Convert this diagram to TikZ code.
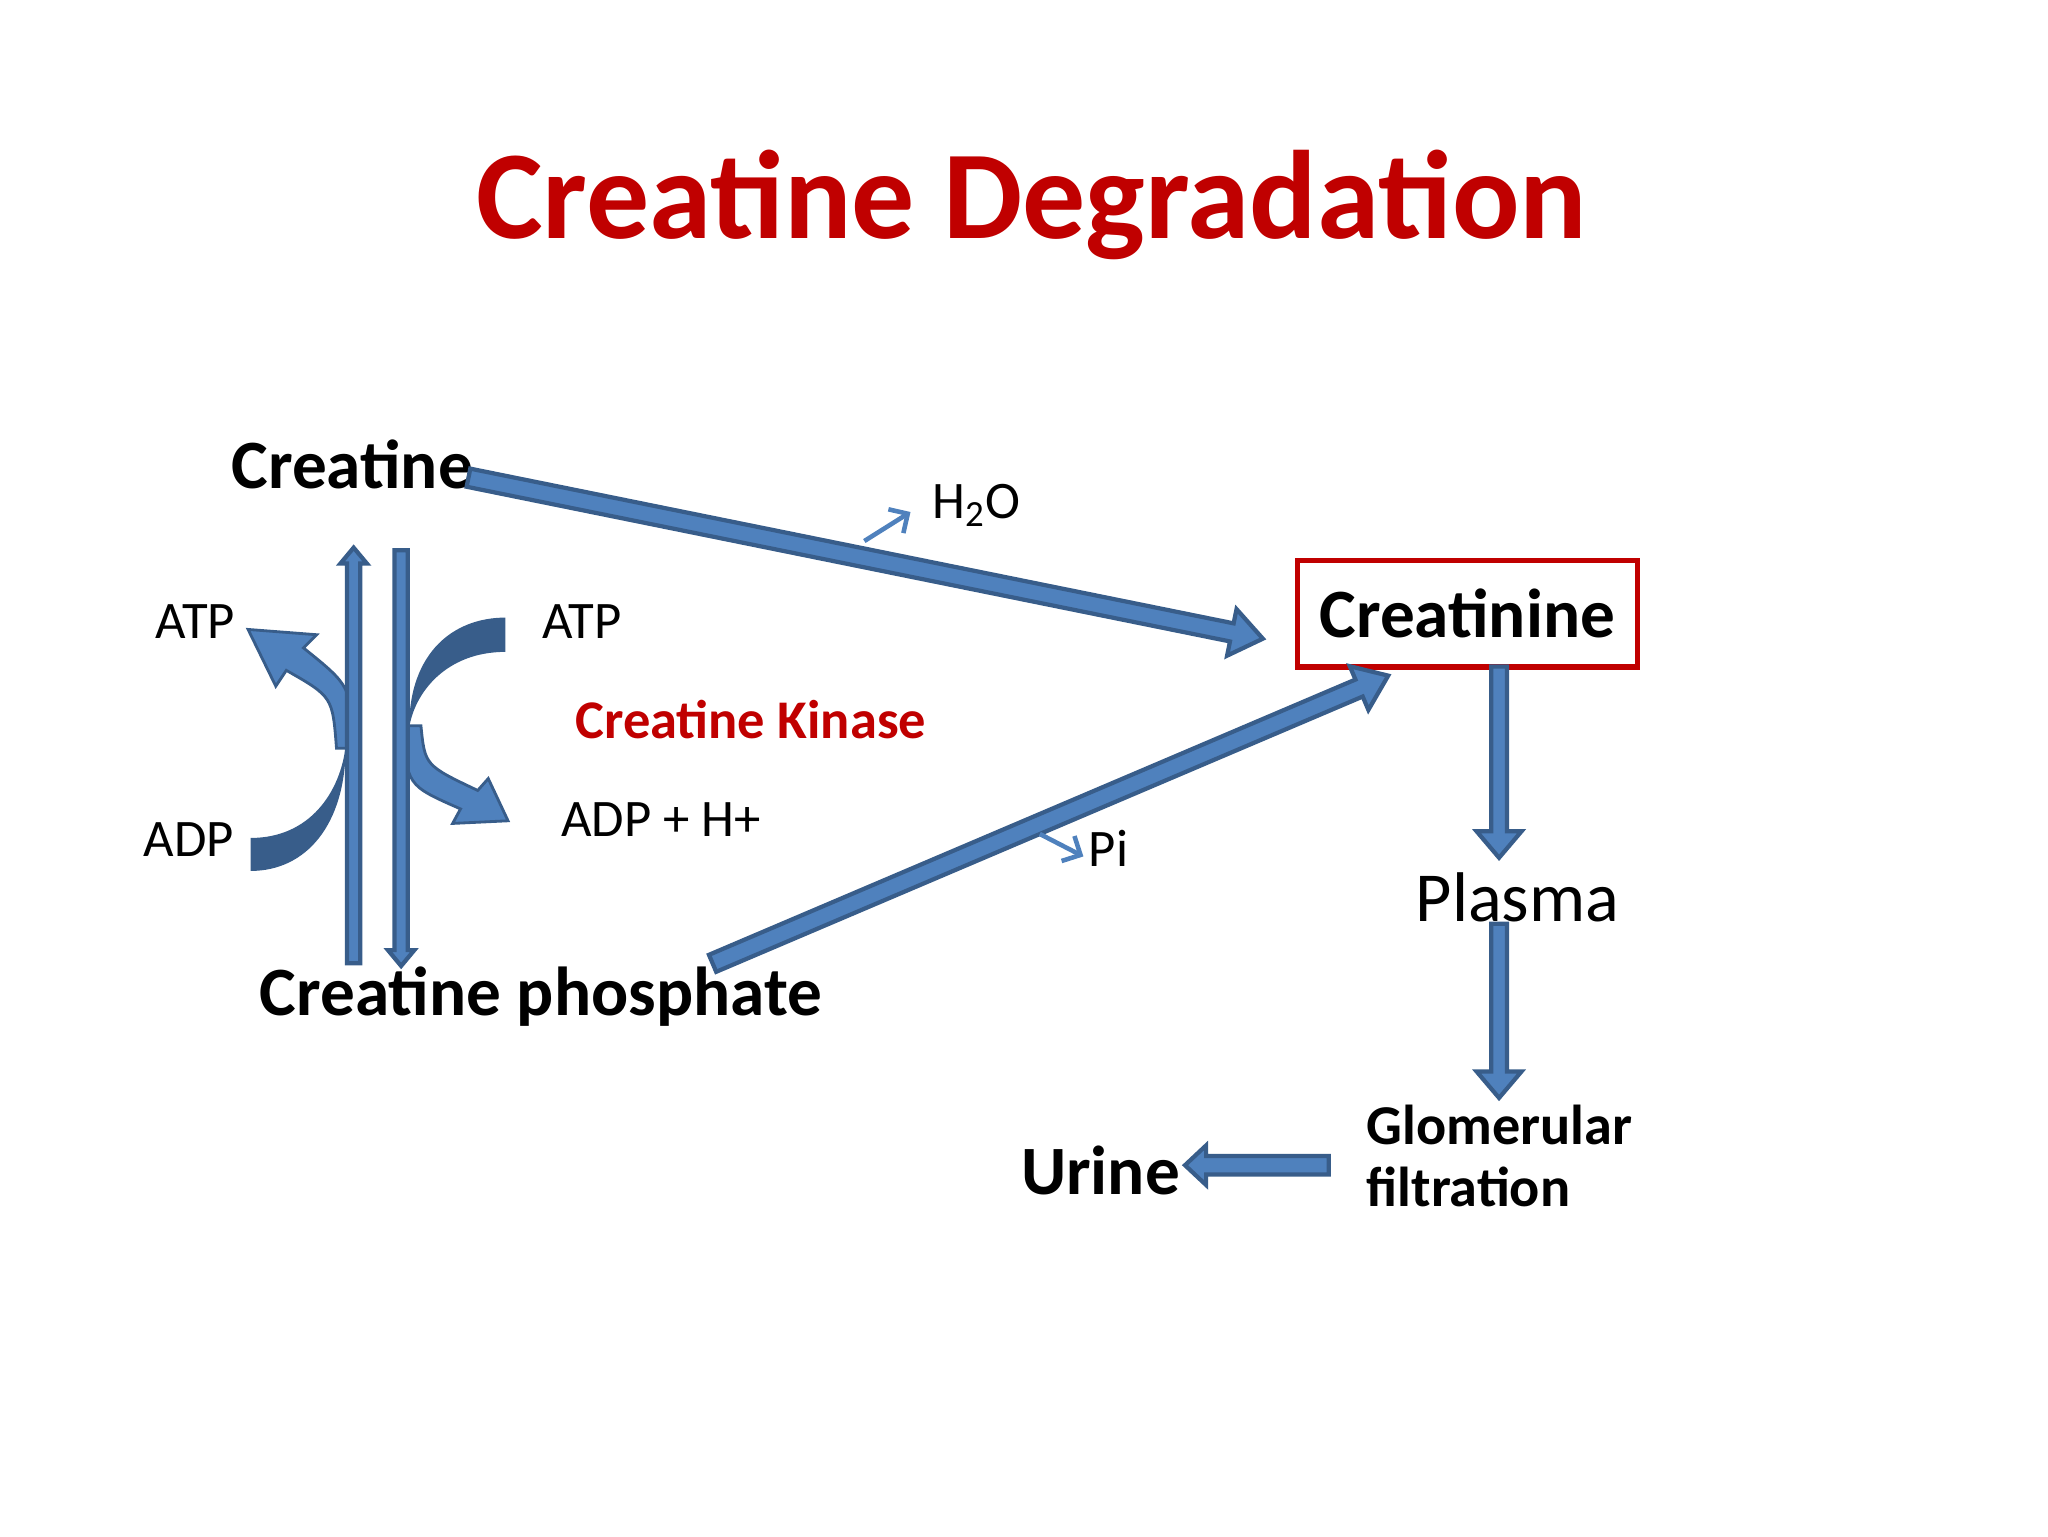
\documentclass[tikz,border=0pt]{standalone}
\usepackage{fontspec}
\setmainfont{Carlito}
\usetikzlibrary{calc,arrows.meta}
\definecolor{ab}{HTML}{4F81BD}
\definecolor{abd}{HTML}{385D8A}
\definecolor{cr}{HTML}{C00000}
\newcommand\barrow[5]{%
 \pgfmathsetmacro\wa{#3*0.3754}\pgfmathsetmacro\wb{#4*0.3754}\pgfmathsetmacro\wl{#5*0.3754}%
 \coordinate (hh) at ($(#2)!\wl pt!(#1)$);
 \draw[barr] ($(#1)!\wa pt!90:(#2)$) -- ($(hh)!\wa pt!90:(#2)$) -- ($(hh)!\wb pt!90:(#2)$) -- (#2) -- ($(hh)!\wb pt!-90:(#2)$) -- ($(hh)!\wa pt!-90:(#2)$) -- ($(#1)!\wa pt!-90:(#2)$) -- cycle;}
\tikzset{barr/.style={fill=ab,draw=abd,line width=1.2pt,line join=miter},
 lbl/.style={inner sep=0pt,font=\fontsize{15}{18}\selectfont},
 big/.style={inner sep=0pt,font=\fontsize{19.7}{24}\selectfont\bfseries},
 thin/.style={draw=ab,line width=1.3pt,-{Straight Barb[length=4pt,width=8pt]}}}
\begin{document}
\begin{tikzpicture}[x=0.3754pt,y=-0.3754pt]
\useasboundingbox (0,0) rectangle (1552,1164);
\node[text=cr,font=\fontsize{35.8}{42}\selectfont\bfseries] (title) at (782,155) {Creatine Degradation};
\node[big] (cr) at (267,352) {Creatine};
\node[big] (cp) at (410,755) {Creatine phosphate};
\node[big,draw=cr,line width=1.5pt,minimum width=258*0.3754pt,minimum height=81*0.3754pt] (crn) at (1112,465) {Creatinine};
\node[lbl,font=\fontsize{20}{24}\selectfont] (pl) at (1150,680) {Plasma};
\node[big,anchor=west,align=left,font=\fontsize{16}{17.5}\selectfont\bfseries] (gl) at (1035,876) {Glomerular\\filtration};
\node[big] (ur) at (834,887) {Urine};
\node[lbl] (h2o) at (740,383) {H\textsubscript{2}O};
\node[lbl] (pi) at (840,643) {Pi};
\node[lbl] (atpl) at (148,471) {ATP};
\node[lbl] (atpr) at (441,471) {ATP};
\node[lbl] (adpl) at (143,636) {ADP};
\node[lbl] (adpr) at (501,621) {ADP + H+};
\node[lbl,text=cr,font=\fontsize{15.5}{19}\selectfont\bfseries] (ck) at (569,545) {Creatine Kinase};
% curved arrows
\fill[abd] (190,635) .. controls (235,635) and (258,600) .. (262,565) .. controls (262,625) and (232,660) .. (190,660) -- cycle;
\draw[barr,line width=0.8pt] (255,567) .. controls (252,528) .. (217,508) -- (209,520) -- (188,477) -- (240,481) -- (230,491) .. controls (266,520) .. (268,567) -- cycle;
\fill[abd] (383,494) .. controls (338,494) and (314,525) .. (310,552) .. controls (310,493) and (345,468) .. (383,468) -- cycle;
\draw[barr,line width=0.8pt] (306,550) .. controls (308,595) .. (349,613) -- (343,624) -- (385,622) -- (370,590) -- (362,599) .. controls (322,580) .. (319,550) -- cycle;
% coordinates
\coordinate (u1) at (268,730); \coordinate (u2) at (268,415);
\coordinate (d1) at (304,417); \coordinate (d2) at (304,732);
\barrow{u1}{u2}{5}{10}{12}
\barrow{d1}{d2}{5}{10}{12}
\coordinate (a1) at (355,362); \coordinate (a2) at (957,484);
\barrow{a1}{a2}{7}{18}{24}
\coordinate (b1) at (540,730); \coordinate (b2) at (1052,512);
\barrow{b1}{b2}{7}{18}{24}
\coordinate (c1) at (1136,505); \coordinate (c2) at (1136,650);
\barrow{c1}{c2}{6}{17}{20}
\coordinate (e1) at (1136,700); \coordinate (e2) at (1136,832);
\barrow{e1}{e2}{6}{17}{20}
\coordinate (f1) at (1007,883); \coordinate (f2) at (898,883);
\barrow{f1}{f2}{7}{15}{16}
\coordinate (h1) at (655,410); \coordinate (h2) at (690,388);
\draw[thin] (h1) -- (h2);
\coordinate (p1) at (788,632); \coordinate (p2) at (821,649);
\draw[thin] (p1) -- (p2);
\end{tikzpicture}
\end{document}
